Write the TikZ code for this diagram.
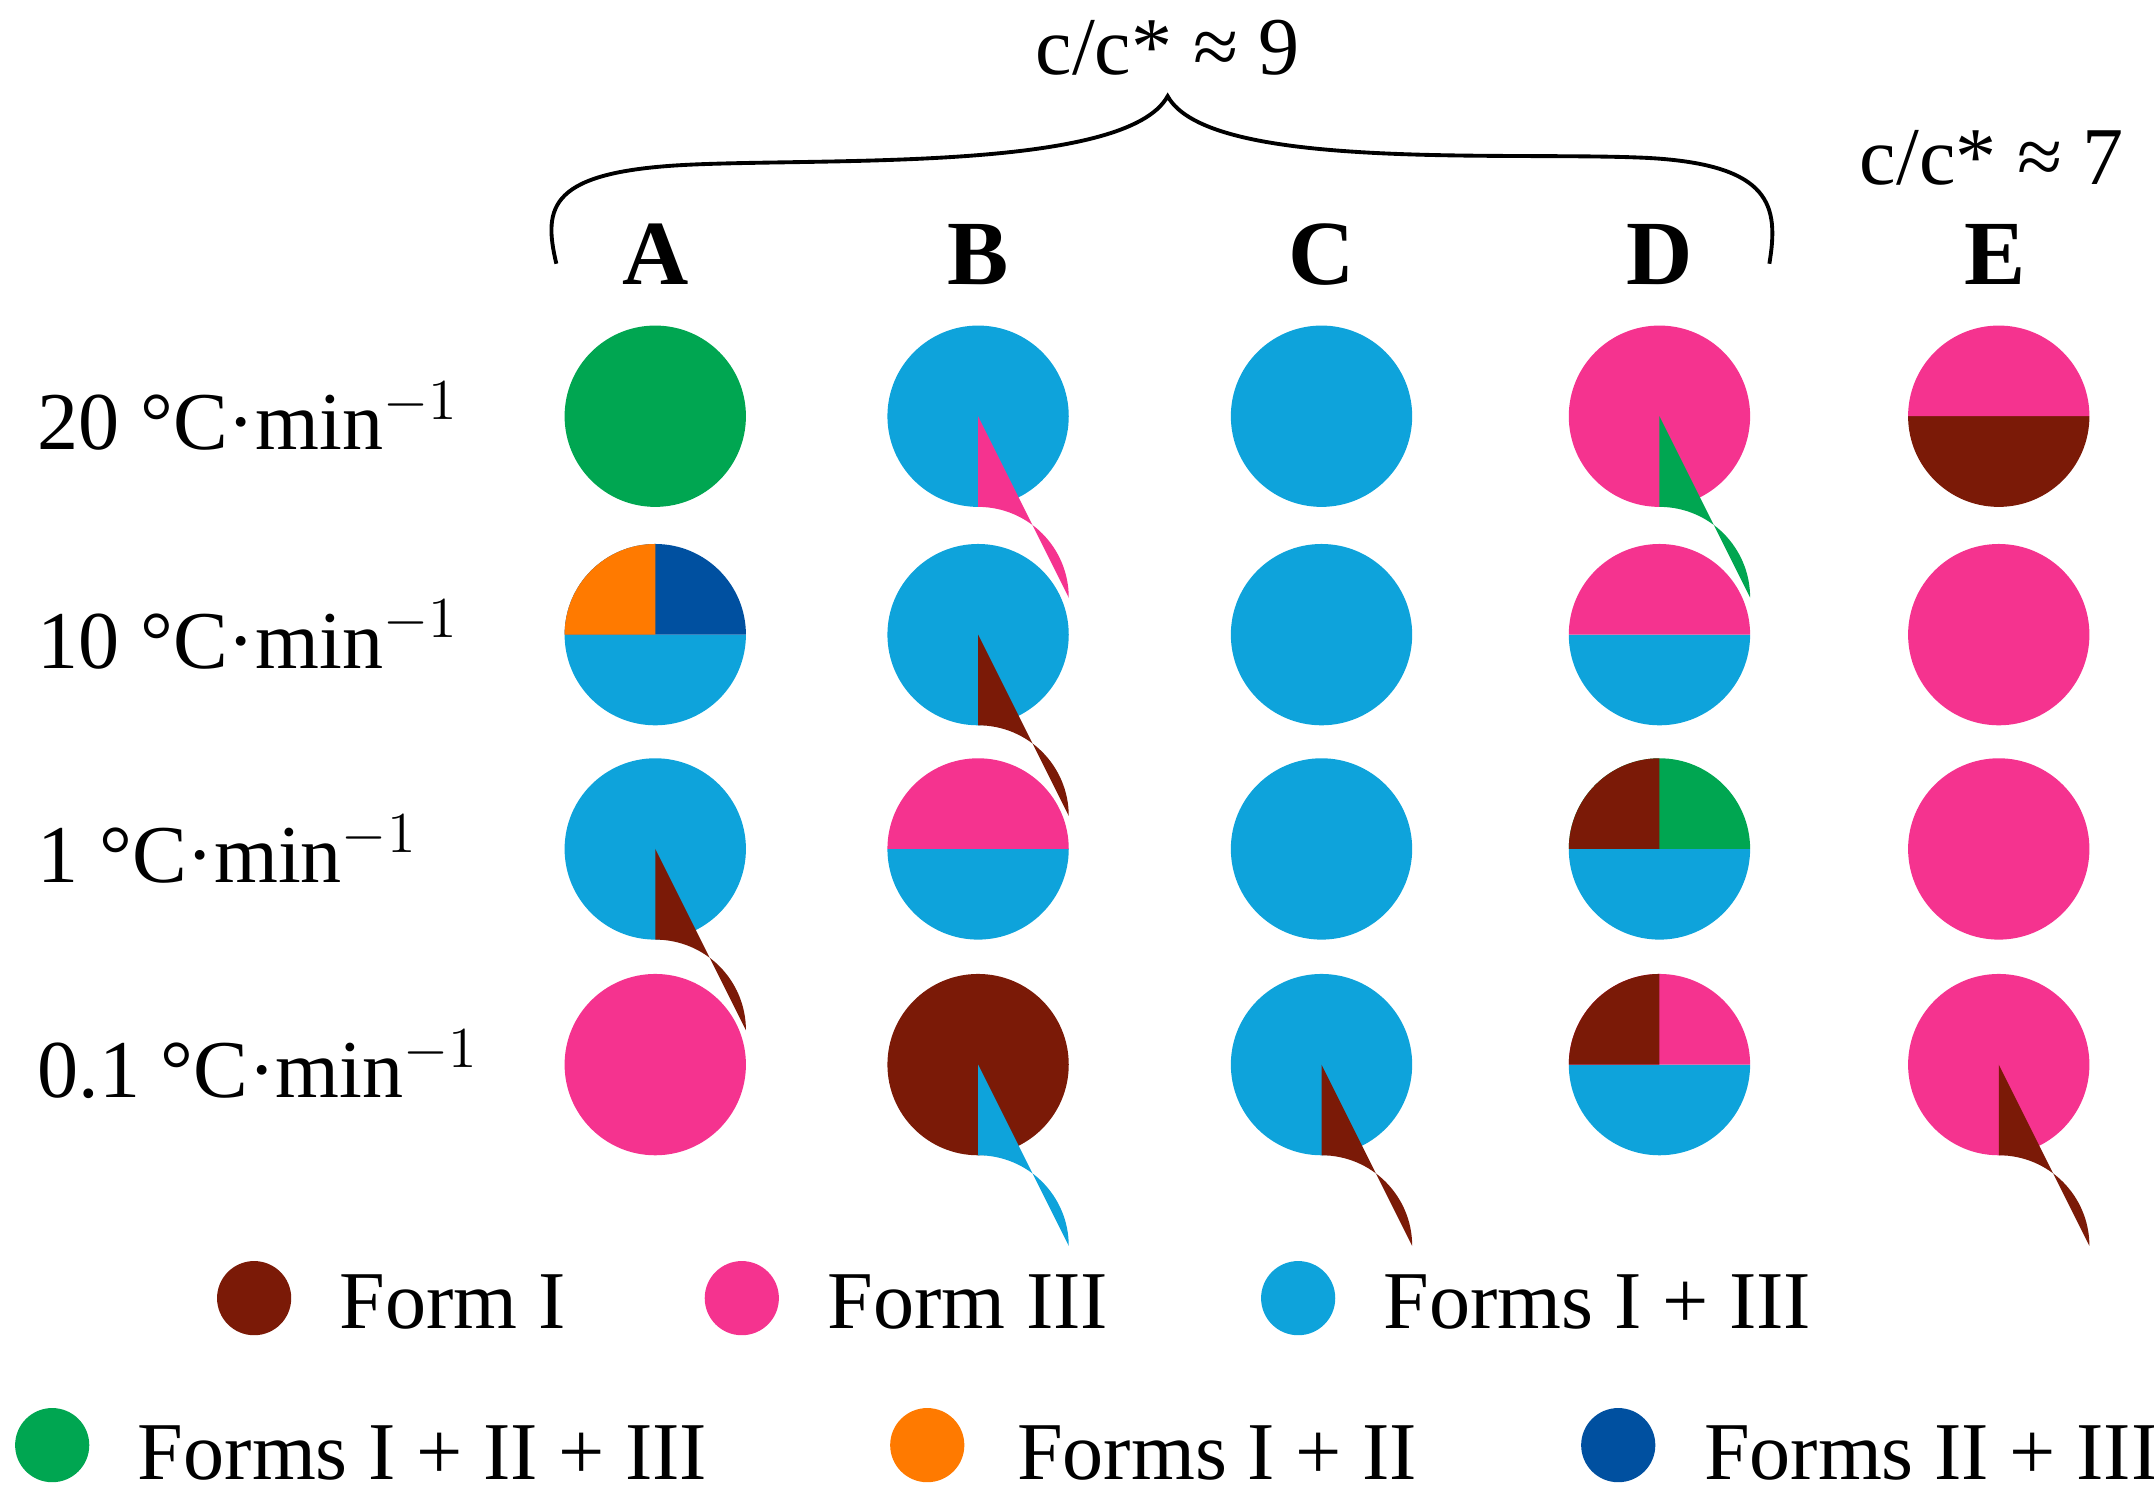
\documentclass[tikz,border=0pt]{standalone}
\usepackage{fontspec}
\setmainfont{Liberation Serif}
\definecolor{cI}{HTML}{7B1A07}
\definecolor{cIII}{HTML}{F5338F}
\definecolor{cIp}{HTML}{0EA3DB}
\definecolor{cG}{HTML}{00A651}
\definecolor{cO}{HTML}{FF7A00}
\definecolor{cD}{HTML}{0050A0}
\begin{document}
\begin{tikzpicture}[x=0.01cm,y=-0.01cm,
  rowlab/.style={anchor=west,font=\fontsize{17}{20}\selectfont},
  collab/.style={font=\fontsize{19}{22}\selectfont\bfseries},
  leg/.style={anchor=west,font=\fontsize{17}{20}\selectfont}]
\useasboundingbox (0,0) rectangle (1568,1092);
\def\R{66}
% full circle
\newcommand\pfull[3]{\fill[#3] (#1,#2) circle (\R);}
% top/bottom halves
\newcommand\phalf[4]{\fill[#3] (#1,#2) -- ++(\R,0) arc[start angle=0,end angle=180,radius=\R] -- cycle;
  \fill[#4] (#1,#2) -- ++(\R,0) arc[start angle=0,end angle=-180,radius=\R] -- cycle;}
% lower-right quarter
\newcommand\plr[3]{\fill[#3] (#1,#2) -- ++(0,\R) arc[start angle=-90,end angle=0,radius=\R] -- cycle;}
% lower-left quarter
\newcommand\pll[3]{\fill[#3] (#1,#2) -- ++(-\R,0) arc[start angle=180,end angle=270,radius=\R] -- cycle;}
% row 20
\pfull{477}{303}{cG}
\pfull{712}{303}{cIp}\plr{712}{303}{cIII}
\pfull{962}{303}{cIp}
\pfull{1208}{303}{cIII}\plr{1208}{303}{cG}
\phalf{1455}{303}{cI}{cIII}
% row 10
\phalf{477}{462}{cIp}{cD}\pll{477}{462}{cO}
\pfull{712}{462}{cIp}\plr{712}{462}{cI}
\pfull{962}{462}{cIp}
\phalf{1208}{462}{cIp}{cIII}
\pfull{1455}{462}{cIII}
% row 1
\pfull{477}{618}{cIp}\plr{477}{618}{cI}
\phalf{712}{618}{cIp}{cIII}
\pfull{962}{618}{cIp}
\phalf{1208}{618}{cIp}{cG}\pll{1208}{618}{cI}
\pfull{1455}{618}{cIII}
% row 0.1
\pfull{477}{775}{cIII}
\pfull{712}{775}{cI}\plr{712}{775}{cIp}
\pfull{962}{775}{cIp}\plr{962}{775}{cI}
\phalf{1208}{775}{cIp}{cIII}\pll{1208}{775}{cI}
\pfull{1455}{775}{cIII}\plr{1455}{775}{cI}
% row labels
\node[rowlab] (r1) at (15,303) {20 °C·min$^{-1}$};
\node[rowlab] (r2) at (15,462) {10 °C·min$^{-1}$};
\node[rowlab] (r3) at (15,618) {1 °C·min$^{-1}$};
\node[rowlab] (r4) at (15,775) {0.1 °C·min$^{-1}$};
% column labels
\node[collab] (cA) at (477,185) {A};
\node[collab] (cB) at (712,185) {B};
\node[collab] (cC) at (962,185) {C};
\node[collab] (cDl) at (1208,185) {D};
\node[collab] (cE) at (1452,185) {E};
\node[rowlab,anchor=center] (t9) at (850,35) {c/c* ≈ 9};
\node[rowlab,anchor=center] (t7) at (1450,115) {c/c* ≈ 7};
% brace
\draw[line width=0.8pt] (405,192) .. controls (395,150) and (400,125) .. (500,120)
  .. controls (600,115) and (820,125) .. (850,70)
  .. controls (880,125) and (1100,110) .. (1200,115)
  .. controls (1290,120) and (1295,150) .. (1288,192);
% legend
\fill[cI] (185,945) circle (27); \node[leg] (l1) at (235,948) {Form I};
\fill[cIII] (540,945) circle (27); \node[leg] (l2) at (590,948) {Form III};
\fill[cIp] (945,945) circle (27); \node[leg] (l3) at (995,948) {Forms I + III};
\fill[cG] (38,1052) circle (27); \node[leg] (l4) at (88,1058) {Forms I + II + III};
\fill[cO] (675,1052) circle (27); \node[leg] (l5) at (728,1058) {Forms I + II};
\fill[cD] (1178,1052) circle (27); \node[leg] (l6) at (1228,1058) {Forms II + III};
\end{tikzpicture}
\end{document}
